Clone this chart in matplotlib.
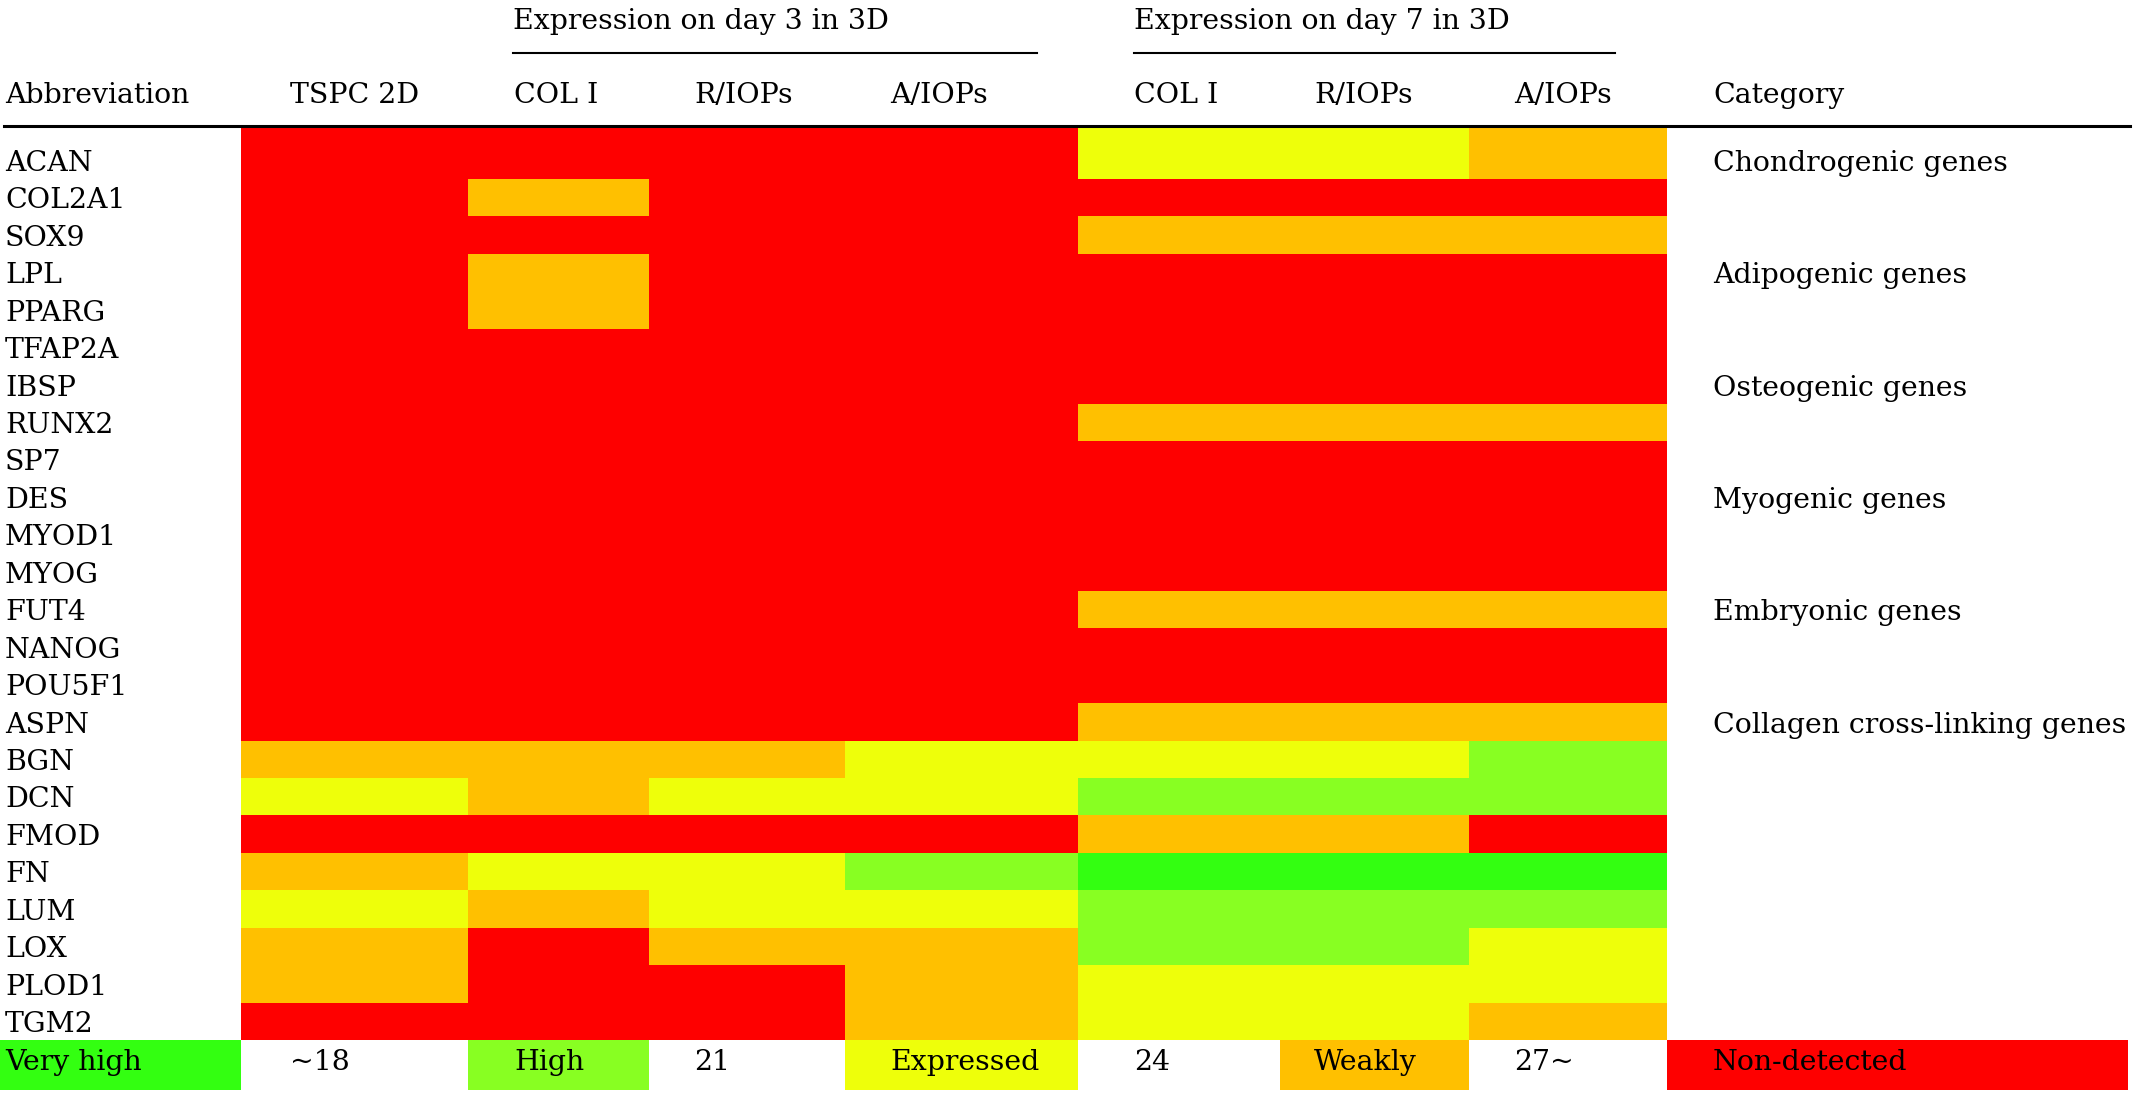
import numpy as np
import matplotlib
matplotlib.use('Agg')
import matplotlib.pyplot as plt
from matplotlib.colors import ListedColormap

# expression levels, order used for colour lookup
levels = ['Very high', 'High', 'Expressed', 'Weakly', 'Non-detected']
level_colors = ['#33FF11', '#88FF22', '#EEFF0A', '#FFC000', '#FE0000']
code = {'G': 0, 'L': 1, 'Y': 2, 'O': 3, 'R': 4}

genes = ['ACAN', 'COL2A1', 'SOX9', 'LPL', 'PPARG', 'TFAP2A', 'IBSP', 'RUNX2',
         'SP7', 'DES', 'MYOD1', 'MYOG', 'FUT4', 'NANOG', 'POU5F1', 'ASPN',
         'BGN', 'DCN', 'FMOD', 'FN', 'LUM', 'LOX', 'PLOD1', 'TGM2']

columns = ['TSPC 2D', 'COL I', 'R/IOPs', 'A/IOPs', 'COL I', 'R/IOPs', 'A/IOPs']

# one string per gene, one letter per column (TSPC 2D, day 3 x3, day 7 x3)
expression = ['RRRRYYO', 'RORRRRR', 'RRRROOO', 'RORRRRR', 'RORRRRR', 'RRRRRRR',
              'RRRRRRR', 'RRRROOO', 'RRRRRRR', 'RRRRRRR', 'RRRRRRR', 'RRRRRRR',
              'RRRROOO', 'RRRRRRR', 'RRRRRRR', 'RRRROOO',
              'OOOYYYL', 'YOYYLLL', 'RRRROOR', 'OYYLGGG', 'YOYYLLL',
              'OROOLLY', 'ORROYYY', 'RRROYYO']

categories = {'ACAN': 'Chondrogenic genes', 'LPL': 'Adipogenic genes',
              'IBSP': 'Osteogenic genes', 'DES': 'Myogenic genes',
              'FUT4': 'Embryonic genes', 'ASPN': 'Collagen cross-linking genes'}

legend_labels = ['Very high', '~18', 'High', '21', 'Expressed', '24', 'Weakly', '27~', 'Non-detected']
legend_levels = [0, np.nan, 1, np.nan, 2, np.nan, 3, np.nan, 4]

# layout (pixel coordinates)
col_edges = [241, 468, 649, 845, 1078, 1280, 1469, 1667]
text_x = [5, 290, 514, 694, 890, 1134, 1314, 1514, 1713]
top = 128
first_bottom = 179
bottom = 1040
row_h = (bottom - first_bottom) / (len(genes) - 1)
row_edges = [top] + [first_bottom + k * row_h for k in range(len(genes))]

fs = 20.4
plt.rcParams['font.family'] = ['DejaVu Serif']

fig = plt.figure(figsize=(21.33, 10.96), dpi=100)
ax = fig.add_axes([0, 0, 1, 1])
ax.set_xlim(0, 2133)
ax.set_ylim(1096, 0)
ax.axis('off')

cmap = ListedColormap(level_colors)
cmap.set_bad((1, 1, 1, 0))
mat = np.array([[code[c] for c in row] for row in expression], dtype=float)
ax.pcolormesh(col_edges, row_edges, mat, cmap=cmap, vmin=-0.5, vmax=4.5)

# legend strip
leg_edges = [0] + col_edges + [2128]
leg = np.ma.masked_invalid(np.array([legend_levels], dtype=float))
ax.pcolormesh(leg_edges, [bottom, 1090], leg, cmap=cmap, vmin=-0.5, vmax=4.5)
for x, lab in zip(text_x, legend_labels):
    ax.text(x, 1070, lab, fontsize=fs, va='baseline', ha='left')

# row labels + categories
for i, g in enumerate(genes):
    yb = first_bottom + i * row_h - 8
    ax.text(5, yb, g, fontsize=fs, va='baseline', ha='left')
    if g in categories:
        ax.text(1713, yb, categories[g], fontsize=fs, va='baseline', ha='left')

# header
ax.text(5, 103, 'Abbreviation', fontsize=fs, va='baseline')
for x, c in zip(text_x[1:8], columns):
    ax.text(x, 103, c, fontsize=fs, va='baseline')
ax.text(1713, 103, 'Category', fontsize=fs, va='baseline')
ax.text(513, 29, 'Expression on day 3 in 3D', fontsize=fs, va='baseline')
ax.text(1134, 29, 'Expression on day 7 in 3D', fontsize=fs, va='baseline')
ax.plot([513, 1037], [53, 53], color='black', lw=1.5)
ax.plot([1134, 1615], [53, 53], color='black', lw=1.5)
ax.plot([4, 2130], [126, 126], color='black', lw=2.2)

fig.savefig('out.png', dpi=100)
